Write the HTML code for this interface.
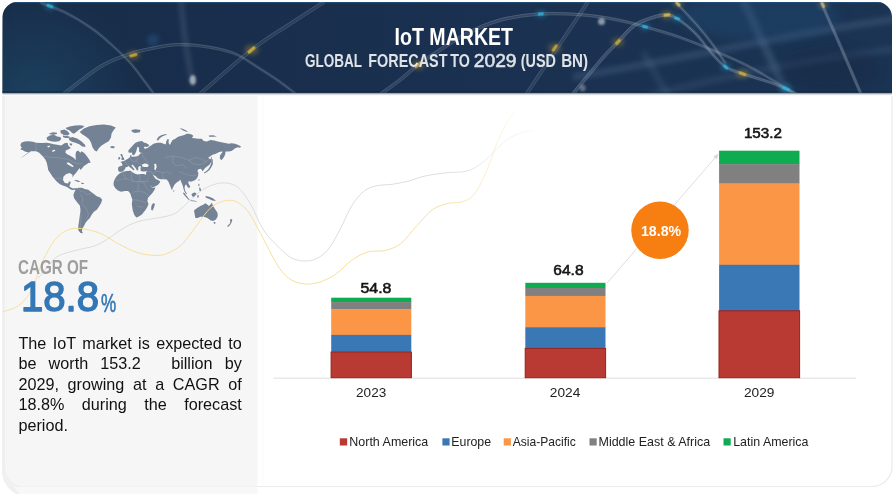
<!DOCTYPE html>
<html lang="en"><head><meta charset="utf-8"><title>IoT Market</title>
<style>
html,body{margin:0;padding:0;background:#fff}
body{width:895px;height:494px;position:relative;overflow:hidden;font-family:"Liberation Sans",sans-serif}
svg{position:absolute;left:0;top:0}
svg text{font-family:"Liberation Sans",sans-serif}
.para{position:absolute;left:18.4px;top:332.5px;width:223.4px;font-size:16.2px;line-height:20.6px;color:#111;text-align:justify}
.para div{text-align:justify;text-align-last:justify;white-space:nowrap;height:20.6px}
.para div.last{text-align-last:left}
</style></head>
<body>
<svg width="895" height="494" viewBox="0 0 895 494">
<defs>
<linearGradient id="bg" x1="0" y1="0" x2="1" y2="0">
<stop offset="0" stop-color="#172c48"/><stop offset="0.5" stop-color="#1a3050"/><stop offset="1" stop-color="#1b3453"/>
</linearGradient>
<radialGradient id="glow" cx="35" cy="95" r="105" gradientUnits="userSpaceOnUse">
<stop offset="0" stop-color="#1c405f" stop-opacity="1"/><stop offset="1" stop-color="#1c405f" stop-opacity="0"/>
</radialGradient>
<linearGradient id="fadeG" x1="440" y1="0" x2="520" y2="0" gradientUnits="userSpaceOnUse">
<stop offset="0" stop-color="#f6dc90"/><stop offset="1" stop-color="#f6dc90" stop-opacity="0.15"/>
</linearGradient>
<linearGradient id="fadeS" x1="440" y1="0" x2="535" y2="0" gradientUnits="userSpaceOnUse">
<stop offset="0" stop-color="#d9d9d9"/><stop offset="1" stop-color="#d9d9d9" stop-opacity="0.15"/>
</linearGradient>
<clipPath id="bclip"><path d="M2.5,92.7 V17 A15,15 0 0 1 17.5,2 H877 A15,15 0 0 1 892,17 V92.7 Z"/></clipPath>
<filter id="b1s" x="-50%" y="-50%" width="200%" height="200%"><feGaussianBlur stdDeviation="1.3"/></filter>
<filter id="b1" x="-20%" y="-20%" width="140%" height="140%"><feGaussianBlur stdDeviation="0.6"/></filter>
<filter id="b3" x="-50%" y="-50%" width="200%" height="200%"><feGaussianBlur stdDeviation="2.5"/></filter>
<filter id="b8" x="-50%" y="-50%" width="200%" height="200%"><feGaussianBlur stdDeviation="6"/></filter>
</defs>

<!-- panels -->
<path d="M2,96 H257.2 V494 H16 A26,26 0 0 1 2,470 Z" fill="#f0f0f0"/>
<path d="M14,487 H257.2 V494 H20 Z" fill="#f8f8f8"/>
<path d="M5,96 H257.2 V486.5 H25 A20,20 0 0 1 5,466.5 Z" fill="#f6f6f6"/>
<path d="M257.2,486.5 H872 A20,20 0 0 0 892,466.5 V96" fill="none" stroke="#ebebeb" stroke-width="1.2"/>
<path d="M263,96 V486" fill="none" stroke="#fbfbfb" stroke-width="1"/>

<!-- banner -->
<rect x="2.5" y="92" width="889.5" height="1.7" fill="#6f7d8c"/>
<rect x="2.5" y="93.7" width="889.5" height="0.8" fill="#aab3bc"/>
<rect x="2.5" y="94.5" width="889.5" height="0.7" fill="#e1e4e8"/>
<g clip-path="url(#bclip)">
<rect x="0" y="0" width="895" height="94" fill="url(#bg)"/>
<rect x="0" y="0" width="895" height="94" fill="url(#glow)"/>
<rect x="0" y="2" width="895" height="1.2" fill="#24507a" opacity="0.8"/>
<rect x="0" y="91.3" width="895" height="1.5" fill="#10233a" opacity="0.7"/>
<path d="M743,0 L788,96" stroke="#6d8cb0" stroke-opacity="0.26" stroke-width="8" fill="none" filter="url(#b3)"/>
<path d="M573,77 C640,66 720,50 773,39.5 S860,24 895,19" stroke="#6d8cb0" stroke-opacity="0.24" stroke-width="7" fill="none" filter="url(#b3)"/>
<path d="M648,96 C700,82 800,60 895,49" stroke="#6d8cb0" stroke-opacity="0.15" stroke-width="7" fill="none" filter="url(#b3)"/>
<path d="M643,52 L668,96" stroke="#6d8cb0" stroke-opacity="0.15" stroke-width="7" fill="none" filter="url(#b3)"/>
<ellipse cx="760" cy="16" rx="80" ry="24" fill="#21507a" opacity="0.35" filter="url(#b8)"/>
<ellipse cx="830" cy="70" rx="50" ry="22" fill="#122540" opacity="0.35" filter="url(#b8)"/>
<path d="M181,0 C183,30 188,60 193,86" stroke="#9fb0c4" stroke-opacity="0.22" stroke-width="4" fill="none" filter="url(#b3)"/>
<ellipse cx="192.8" cy="80" rx="3.2" ry="5" fill="#ffffff" opacity="0.55" filter="url(#b1s)"/>
<ellipse cx="601.5" cy="21.5" rx="3.5" ry="3.5" fill="#ffffff" opacity="0.5" filter="url(#b1s)"/>
<ellipse cx="582.7" cy="88" rx="3" ry="3.5" fill="#ffffff" opacity="0.3" filter="url(#b1s)"/>
<ellipse cx="153" cy="40" rx="6" ry="6" fill="#2a6aa0" opacity="0.35" filter="url(#b3)"/>
<path d="M40,2.7 C44.5,4.5 58.0,8.9 67,13.4 C76.0,17.9 86.2,24.4 94,30 C101.8,35.6 107.8,41.4 114,47 C120.2,52.6 126.0,58.1 131,63.7 C136.0,69.3 140.2,75.5 144,80.5 C147.8,85.5 152.3,91.8 154,94" stroke="#b9c6d6" stroke-opacity="0.11" stroke-width="3.4" fill="none"/>
<path d="M40,2.7 C44.5,4.5 58.0,8.9 67,13.4 C76.0,17.9 86.2,24.4 94,30 C101.8,35.6 107.8,41.4 114,47 C120.2,52.6 126.0,58.1 131,63.7 C136.0,69.3 140.2,75.5 144,80.5 C147.8,85.5 152.3,91.8 154,94" stroke="#dfe7f0" stroke-opacity="0.20" stroke-width="0.8" fill="none" transform="translate(-1.1,-1.1)"/>
<path d="M40,2.7 C44.5,4.5 58.0,8.9 67,13.4 C76.0,17.9 86.2,24.4 94,30 C101.8,35.6 107.8,41.4 114,47 C120.2,52.6 126.0,58.1 131,63.7 C136.0,69.3 140.2,75.5 144,80.5 C147.8,85.5 152.3,91.8 154,94" stroke="#dfe7f0" stroke-opacity="0.15" stroke-width="0.8" fill="none" transform="translate(1.1,1.1)"/>
<path d="M63.7,94 C69.8,89.5 89.5,73.5 100,67 C110.5,60.5 118.5,58.1 127,55 C135.5,51.9 142.6,50.3 151,48.6 C159.4,46.9 168.2,44.9 177.7,44.6 C187.2,44.3 198.5,45.5 208,47 C217.5,48.5 226.9,50.5 234.7,53.6 C242.5,56.7 247.6,60.9 254.8,65.4 C262.0,69.9 271.1,75.7 278,80.5 C284.9,85.3 293.0,91.8 296,94" stroke="#b9c6d6" stroke-opacity="0.11" stroke-width="3.4" fill="none"/>
<path d="M63.7,94 C69.8,89.5 89.5,73.5 100,67 C110.5,60.5 118.5,58.1 127,55 C135.5,51.9 142.6,50.3 151,48.6 C159.4,46.9 168.2,44.9 177.7,44.6 C187.2,44.3 198.5,45.5 208,47 C217.5,48.5 226.9,50.5 234.7,53.6 C242.5,56.7 247.6,60.9 254.8,65.4 C262.0,69.9 271.1,75.7 278,80.5 C284.9,85.3 293.0,91.8 296,94" stroke="#dfe7f0" stroke-opacity="0.20" stroke-width="0.8" fill="none" transform="translate(-1.1,-1.1)"/>
<path d="M63.7,94 C69.8,89.5 89.5,73.5 100,67 C110.5,60.5 118.5,58.1 127,55 C135.5,51.9 142.6,50.3 151,48.6 C159.4,46.9 168.2,44.9 177.7,44.6 C187.2,44.3 198.5,45.5 208,47 C217.5,48.5 226.9,50.5 234.7,53.6 C242.5,56.7 247.6,60.9 254.8,65.4 C262.0,69.9 271.1,75.7 278,80.5 C284.9,85.3 293.0,91.8 296,94" stroke="#dfe7f0" stroke-opacity="0.15" stroke-width="0.8" fill="none" transform="translate(1.1,1.1)"/>
<path d="M200,94 C208.7,86.6 237.0,61.3 252,49.6 C267.0,37.9 278.0,31.9 290,24 C302.0,16.1 318.3,5.7 324,2" stroke="#b9c6d6" stroke-opacity="0.11" stroke-width="3.4" fill="none"/>
<path d="M200,94 C208.7,86.6 237.0,61.3 252,49.6 C267.0,37.9 278.0,31.9 290,24 C302.0,16.1 318.3,5.7 324,2" stroke="#dfe7f0" stroke-opacity="0.20" stroke-width="0.8" fill="none" transform="translate(-1.1,-1.1)"/>
<path d="M200,94 C208.7,86.6 237.0,61.3 252,49.6 C267.0,37.9 278.0,31.9 290,24 C302.0,16.1 318.3,5.7 324,2" stroke="#dfe7f0" stroke-opacity="0.15" stroke-width="0.8" fill="none" transform="translate(1.1,1.1)"/>
<path d="M381,94 C384.2,91.7 393.8,84.8 400,80 C406.2,75.2 411.3,70.0 418,65 C424.7,60.0 431.8,55.2 440,50 C448.2,44.8 456.9,38.5 467,33.5 C477.1,28.5 488.3,23.2 500.6,20 C512.9,16.8 526.9,14.8 540.8,14 C554.7,13.2 571.1,14.0 584,15 C596.9,16.0 607.8,18.0 618,20 C628.2,22.0 634.8,24.0 645,26.8 C655.2,29.6 667.8,33.1 679,37 C690.2,40.9 700.8,45.3 712,50 C723.2,54.7 734.8,59.3 746,65 C757.2,70.7 771.0,79.2 779,84 C787.0,88.8 791.5,92.3 794,94" stroke="#b9c6d6" stroke-opacity="0.14" stroke-width="3.4" fill="none"/>
<path d="M381,94 C384.2,91.7 393.8,84.8 400,80 C406.2,75.2 411.3,70.0 418,65 C424.7,60.0 431.8,55.2 440,50 C448.2,44.8 456.9,38.5 467,33.5 C477.1,28.5 488.3,23.2 500.6,20 C512.9,16.8 526.9,14.8 540.8,14 C554.7,13.2 571.1,14.0 584,15 C596.9,16.0 607.8,18.0 618,20 C628.2,22.0 634.8,24.0 645,26.8 C655.2,29.6 667.8,33.1 679,37 C690.2,40.9 700.8,45.3 712,50 C723.2,54.7 734.8,59.3 746,65 C757.2,70.7 771.0,79.2 779,84 C787.0,88.8 791.5,92.3 794,94" stroke="#dfe7f0" stroke-opacity="0.20" stroke-width="0.8" fill="none" transform="translate(-1.1,-1.1)"/>
<path d="M381,94 C384.2,91.7 393.8,84.8 400,80 C406.2,75.2 411.3,70.0 418,65 C424.7,60.0 431.8,55.2 440,50 C448.2,44.8 456.9,38.5 467,33.5 C477.1,28.5 488.3,23.2 500.6,20 C512.9,16.8 526.9,14.8 540.8,14 C554.7,13.2 571.1,14.0 584,15 C596.9,16.0 607.8,18.0 618,20 C628.2,22.0 634.8,24.0 645,26.8 C655.2,29.6 667.8,33.1 679,37 C690.2,40.9 700.8,45.3 712,50 C723.2,54.7 734.8,59.3 746,65 C757.2,70.7 771.0,79.2 779,84 C787.0,88.8 791.5,92.3 794,94" stroke="#dfe7f0" stroke-opacity="0.15" stroke-width="0.8" fill="none" transform="translate(1.1,1.1)"/>
<path d="M526.5,94 C536.8,78.7 577.8,17.3 588,2" stroke="#b9c6d6" stroke-opacity="0.11" stroke-width="3.4" fill="none"/>
<path d="M526.5,94 C536.8,78.7 577.8,17.3 588,2" stroke="#dfe7f0" stroke-opacity="0.20" stroke-width="0.8" fill="none" transform="translate(-1.1,-1.1)"/>
<path d="M526.5,94 C536.8,78.7 577.8,17.3 588,2" stroke="#dfe7f0" stroke-opacity="0.15" stroke-width="0.8" fill="none" transform="translate(1.1,1.1)"/>
<path d="M573,94 C577.7,88.3 593.5,68.7 601,60 C608.5,51.3 612.3,47.8 618,42 C623.7,36.2 628.8,29.2 635,25 C641.2,20.8 649.7,18.5 655,16.8 C660.3,15.1 663.3,14.7 667,15 C670.7,15.3 672.2,15.3 677,18.4 C681.8,21.5 689.8,27.6 695.6,33.5 C701.4,39.4 707.0,48.0 712,53.6 C717.0,59.2 720.6,63.6 725.7,67 C730.8,70.3 735.3,71.2 742.5,73.7 C749.7,76.2 761.8,79.5 769,82 C776.2,84.5 781.3,86.8 786,88.8 C790.7,90.8 795.2,93.1 797,94" stroke="#b9c6d6" stroke-opacity="0.2" stroke-width="3.4" fill="none"/>
<path d="M573,94 C577.7,88.3 593.5,68.7 601,60 C608.5,51.3 612.3,47.8 618,42 C623.7,36.2 628.8,29.2 635,25 C641.2,20.8 649.7,18.5 655,16.8 C660.3,15.1 663.3,14.7 667,15 C670.7,15.3 672.2,15.3 677,18.4 C681.8,21.5 689.8,27.6 695.6,33.5 C701.4,39.4 707.0,48.0 712,53.6 C717.0,59.2 720.6,63.6 725.7,67 C730.8,70.3 735.3,71.2 742.5,73.7 C749.7,76.2 761.8,79.5 769,82 C776.2,84.5 781.3,86.8 786,88.8 C790.7,90.8 795.2,93.1 797,94" stroke="#dfe7f0" stroke-opacity="0.20" stroke-width="0.8" fill="none" transform="translate(-1.1,-1.1)"/>
<path d="M573,94 C577.7,88.3 593.5,68.7 601,60 C608.5,51.3 612.3,47.8 618,42 C623.7,36.2 628.8,29.2 635,25 C641.2,20.8 649.7,18.5 655,16.8 C660.3,15.1 663.3,14.7 667,15 C670.7,15.3 672.2,15.3 677,18.4 C681.8,21.5 689.8,27.6 695.6,33.5 C701.4,39.4 707.0,48.0 712,53.6 C717.0,59.2 720.6,63.6 725.7,67 C730.8,70.3 735.3,71.2 742.5,73.7 C749.7,76.2 761.8,79.5 769,82 C776.2,84.5 781.3,86.8 786,88.8 C790.7,90.8 795.2,93.1 797,94" stroke="#dfe7f0" stroke-opacity="0.15" stroke-width="0.8" fill="none" transform="translate(1.1,1.1)"/>
<path d="M675.5,2 C678.9,5.6 689.5,16.6 695.6,23.5 C701.7,30.4 707.0,36.9 712,43.6 C717.0,50.3 723.4,60.4 725.7,63.7" stroke="#b9c6d6" stroke-opacity="0.15" stroke-width="3.4" fill="none"/>
<path d="M675.5,2 C678.9,5.6 689.5,16.6 695.6,23.5 C701.7,30.4 707.0,36.9 712,43.6 C717.0,50.3 723.4,60.4 725.7,63.7" stroke="#dfe7f0" stroke-opacity="0.20" stroke-width="0.8" fill="none" transform="translate(-1.1,-1.1)"/>
<path d="M675.5,2 C678.9,5.6 689.5,16.6 695.6,23.5 C701.7,30.4 707.0,36.9 712,43.6 C717.0,50.3 723.4,60.4 725.7,63.7" stroke="#dfe7f0" stroke-opacity="0.15" stroke-width="0.8" fill="none" transform="translate(1.1,1.1)"/>
<path d="M821,2 C824.2,9.2 833.3,29.7 840,45 C846.7,60.3 857.5,85.8 861,94" stroke="#b9c6d6" stroke-opacity="0.22" stroke-width="3.4" fill="none"/>
<path d="M821,2 C824.2,9.2 833.3,29.7 840,45 C846.7,60.3 857.5,85.8 861,94" stroke="#dfe7f0" stroke-opacity="0.20" stroke-width="0.8" fill="none" transform="translate(-1.1,-1.1)"/>
<path d="M821,2 C824.2,9.2 833.3,29.7 840,45 C846.7,60.3 857.5,85.8 861,94" stroke="#dfe7f0" stroke-opacity="0.15" stroke-width="0.8" fill="none" transform="translate(1.1,1.1)"/>
<ellipse cx="50" cy="6" rx="6" ry="4" fill="#2fb6e0" opacity="0.30" filter="url(#b3)"/>
<rect x="46.5" y="4.5" width="6.9" height="3" rx="1.2" fill="#2fb6e0" opacity="0.8" filter="url(#b1)" transform="rotate(21.6 50 6)"/>
<ellipse cx="133.4" cy="55.3" rx="6.5" ry="4.5" fill="#d9ae35" opacity="0.30" filter="url(#b3)"/>
<rect x="129.4" y="53.8" width="8.0" height="3" rx="1.2" fill="#d9ae35" opacity="0.8" filter="url(#b1)" transform="rotate(-14.9 133.4 55.3)"/>
<ellipse cx="251.5" cy="50" rx="7" ry="5" fill="#e2b838" opacity="0.30" filter="url(#b3)"/>
<rect x="246.9" y="48.5" width="9.2" height="3" rx="1.2" fill="#e2b838" opacity="0.8" filter="url(#b1)" transform="rotate(-40.5 251.5 50)"/>
<ellipse cx="418" cy="65" rx="6.5" ry="4.5" fill="#d9ae35" opacity="0.30" filter="url(#b3)"/>
<rect x="414.0" y="63.5" width="8.0" height="3" rx="1.2" fill="#d9ae35" opacity="0.8" filter="url(#b1)" transform="rotate(-39.8 418 65)"/>
<ellipse cx="540.8" cy="14" rx="5.5" ry="3.5" fill="#2fb6e0" opacity="0.30" filter="url(#b3)"/>
<rect x="537.9" y="12.5" width="5.8" height="3" rx="1.2" fill="#2fb6e0" opacity="0.8" filter="url(#b1)" transform="rotate(-8.5 540.8 14)"/>
<ellipse cx="645" cy="26.8" rx="5.5" ry="3.5" fill="#2fb6e0" opacity="0.30" filter="url(#b3)"/>
<rect x="642.1" y="25.3" width="5.8" height="3" rx="1.2" fill="#2fb6e0" opacity="0.8" filter="url(#b1)" transform="rotate(14.1 645 26.8)"/>
<ellipse cx="618" cy="42" rx="6" ry="4" fill="#d9ae35" opacity="0.30" filter="url(#b3)"/>
<rect x="614.5" y="40.5" width="6.9" height="3" rx="1.2" fill="#d9ae35" opacity="0.8" filter="url(#b1)" transform="rotate(-46.6 618 42)"/>
<ellipse cx="667" cy="15" rx="6" ry="4" fill="#e8c040" opacity="0.30" filter="url(#b3)"/>
<rect x="663.5" y="13.5" width="6.9" height="3" rx="1.2" fill="#e8c040" opacity="0.8" filter="url(#b1)" transform="rotate(-8.5 667 15)"/>
<ellipse cx="677" cy="18.4" rx="5.5" ry="3.5" fill="#2fb6e0" opacity="0.30" filter="url(#b3)"/>
<rect x="674.1" y="16.9" width="5.8" height="3" rx="1.2" fill="#2fb6e0" opacity="0.8" filter="url(#b1)" transform="rotate(18.8 677 18.4)"/>
<ellipse cx="725.7" cy="67" rx="5.5" ry="3.5" fill="#2fb6e0" opacity="0.30" filter="url(#b3)"/>
<rect x="722.8" y="65.5" width="5.8" height="3" rx="1.2" fill="#2fb6e0" opacity="0.8" filter="url(#b1)" transform="rotate(44.4 725.7 67)"/>
<ellipse cx="742.5" cy="73.7" rx="6.5" ry="4.5" fill="#d9ae35" opacity="0.30" filter="url(#b3)"/>
<rect x="738.5" y="72.2" width="8.0" height="3" rx="1.2" fill="#d9ae35" opacity="0.8" filter="url(#b1)" transform="rotate(21.7 742.5 73.7)"/>
<ellipse cx="786" cy="88.8" rx="6.5" ry="4.5" fill="#2fb6e0" opacity="0.30" filter="url(#b3)"/>
<rect x="782.0" y="87.3" width="8.0" height="3" rx="1.2" fill="#2fb6e0" opacity="0.8" filter="url(#b1)" transform="rotate(21.8 786 88.8)"/>
<ellipse cx="678" cy="4" rx="5.5" ry="3.5" fill="#d8c060" opacity="0.30" filter="url(#b3)"/>
<rect x="675.1" y="2.5" width="5.8" height="3" rx="1.2" fill="#d8c060" opacity="0.8" filter="url(#b1)" transform="rotate(46.9 678 4)"/>
<ellipse cx="823" cy="5" rx="5.5" ry="3.5" fill="#c8b878" opacity="0.30" filter="url(#b3)"/>
<rect x="820.1" y="3.5" width="5.8" height="3" rx="1.2" fill="#c8b878" opacity="0.8" filter="url(#b1)" transform="rotate(66.2 823 5)"/>
<ellipse cx="554.7" cy="48" rx="6.5" ry="4.5" fill="#d9ae35" opacity="0.30" filter="url(#b3)"/>
<rect x="550.7" y="46.5" width="8.0" height="3" rx="1.2" fill="#d9ae35" opacity="0.8" filter="url(#b1)" transform="rotate(-56.2 554.7 48)"/>
</g>

<!-- title -->
<text x="394.6" y="45.3" font-size="23.6" font-weight="bold" fill="#ffffff" textLength="118.4" lengthAdjust="spacingAndGlyphs">IoT MARKET</text>
<g font-size="18.8" font-weight="bold" fill="#dfe2e6">
<text x="304.9" y="66.7" textLength="57.0" lengthAdjust="spacingAndGlyphs">GLOBAL</text>
<text x="368.3" y="66.7" textLength="79.2" lengthAdjust="spacingAndGlyphs">FORECAST</text>
<text x="450.3" y="66.7" textLength="19.6" lengthAdjust="spacingAndGlyphs">TO</text>
<text x="473.8" y="66.7" font-weight="normal" stroke="#dfe2e6" stroke-width="0.55" textLength="42.7" lengthAdjust="spacingAndGlyphs">2029</text>
<text x="520.7" y="66.7" textLength="35.2" lengthAdjust="spacingAndGlyphs">(USD</text>
<text x="561.2" y="66.7" textLength="26.9" lengthAdjust="spacingAndGlyphs">BN)</text>
</g>

<!-- world map -->
<path d="M20.3,158.5 L23.4,155.9 L28.7,152.2 L25.5,151.7 L22.4,150.1 L20.3,149.6 L21.8,147.5 L20.3,145.4 L21.3,142.7 L24.5,141.4 L28.7,141.2 L32.9,141.7 L36.1,142.7 L41.3,143.1 L46.6,142.7 L49.7,143.3 L53.9,144.3 L57.1,144.8 L61.3,145.4 L64.5,143.3 L67.6,142.7 L68.2,145.6 L70.8,148.0 L68.7,149.2 L65.7,150.6 L65.5,152.7 L67.1,154.3 L69.7,155.4 L72.4,156.9 L74.5,158.5 L75.2,160.3 L75.8,158.5 L75.5,154.8 L76.1,151.7 L78.2,150.6 L80.3,152.7 L81.8,151.2 L84.5,153.3 L87.1,156.4 L89.2,159.6 L90.8,162.7 L88.7,162.7 L86.6,164.3 L83.9,165.9 L82.4,168.0 L80.3,170.0 L79.5,168.1 L77.4,171.0 L75.9,173.1 L73.8,175.2 L72.4,177.4 L72.7,174.0 L73.5,177.1 L72.0,174.5 L69.8,173.1 L66.3,174.0 L63.5,176.4 L63.0,179.9 L64.9,183.0 L68.1,183.6 L69.1,181.3 L70.7,181.9 L70.1,184.2 L69.3,186.2 L71.3,187.7 L73.4,188.6 L76.2,188.1 L77.2,189.3 L75.2,189.8 L73.4,190.1 L71.3,189.8 L69.1,188.6 L67.0,187.1 L63.5,185.7 L59.9,184.2 L56.4,181.3 L52.8,177.1 L50.0,172.8 L48.2,170.0 L47.6,166.4 L46.6,162.2 L45.0,159.1 L42.4,155.9 L39.2,152.7 L36.1,151.2 L30.8,151.2 L26.6,154.3Z M74.1,179.9 L77.6,180.2 L80.5,181.6 L78.3,181.9 L75.5,181.1Z M81.2,182.8 L84.0,183.0 L83.7,184.0 L81.5,183.9Z M46.6,137.5 L49.7,135.4 L53.9,134.8 L57.1,136.4 L60.3,136.9 L61.3,139.1 L59.2,141.2 L55.0,141.7 L50.8,141.2 L47.1,140.1Z M48.7,133.8 L52.9,132.2 L57.1,132.7 L56.6,134.3 L51.8,134.8Z M60.3,130.6 L64.5,129.6 L67.6,131.2 L69.7,133.8 L67.6,135.4 L63.4,134.8 L60.8,133.3Z M68.7,138.0 L72.4,136.9 L77.1,138.5 L81.3,141.2 L85.0,144.8 L85.5,146.9 L82.4,146.4 L79.2,144.3 L75.5,142.7 L71.8,141.7 L69.2,140.1Z M65.5,128.0 L69.7,126.4 L75.0,125.4 L80.3,125.2 L84.5,125.9 L82.4,128.0 L79.2,129.6 L76.6,131.7 L73.9,133.8 L71.8,132.7 L69.7,130.6 L67.1,129.6Z M62.9,135.4 L66.6,135.9 L69.7,136.4 L69.2,138.0 L65.5,138.0 L62.9,136.9Z M69.7,143.3 L72.4,143.8 L71.8,145.6 L69.9,145.2Z M76.2,189.1 L78.3,187.7 L81.9,187.7 L84.7,189.1 L88.3,189.8 L91.1,192.0 L93.9,194.1 L96.8,196.2 L100.3,197.6 L102.2,199.8 L101.0,203.3 L98.9,206.8 L96.8,209.7 L93.9,211.8 L91.8,214.6 L89.7,218.2 L87.6,220.3 L85.4,223.1 L84.0,226.0 L82.6,228.1 L81.9,230.9 L82.9,233.2 L80.5,233.1 L78.3,230.2 L78.3,226.0 L79.1,221.0 L79.8,215.4 L80.5,209.7 L79.8,205.4 L76.9,201.9 L74.1,198.3 L73.4,194.8 L74.8,191.3Z M79.7,132.0 L83.9,128.5 L89.6,126.3 L96.7,124.9 L103.8,124.6 L110.9,125.6 L115.8,127.5 L113.7,129.9 L111.6,133.4 L110.9,137.7 L108.7,141.2 L105.2,143.3 L101.6,145.5 L98.8,148.3 L96.7,151.6 L94.6,150.4 L92.4,146.9 L91.0,142.6 L88.9,139.1 L85.4,136.3 L81.8,134.1Z M110.2,146.5 L113.0,145.9 L115.1,147.0 L113.4,148.2 L110.9,147.9Z M118.1,170.6 L118.1,167.4 L120.1,166.1 L122.1,165.7 L122.5,164.5 L121.7,162.9 L120.5,162.1 L122.9,161.3 L124.9,160.5 L127.0,159.3 L129.0,158.1 L130.0,156.8 L130.2,155.2 L131.3,155.1 L131.4,156.8 L133.0,156.8 L136.3,156.4 L138.7,155.6 L139.3,154.8 L140.2,153.6 L142.3,153.0 L140.1,152.4 L138.9,151.2 L139.2,148.9 L138.5,147.0 L137.3,147.0 L136.8,149.2 L136.3,151.2 L135.5,153.0 L134.7,154.4 L133.5,155.2 L132.2,154.6 L131.8,152.4 L130.2,152.8 L128.6,152.4 L128.2,150.8 L129.4,149.2 L131.4,147.1 L133.4,144.7 L135.5,142.7 L138.7,141.5 L142.3,141.1 L143.6,142.4 L146.0,143.1 L148.8,144.7 L149.2,145.9 L146.8,146.9 L144.8,146.6 L143.6,147.9 L145.2,148.8 L147.6,147.9 L153.5,143.7 L157.1,142.8 L160.8,142.8 L163.5,143.7 L165.8,144.6 L166.2,141.4 L167.6,139.1 L168.9,139.6 L168.5,142.8 L169.9,145.0 L171.2,142.3 L172.6,140.0 L175.3,138.7 L178.1,136.8 L180.8,135.9 L184.4,135.0 L186.7,133.7 L189.0,133.7 L191.7,134.6 L193.5,135.9 L191.7,137.8 L194.4,138.2 L198.1,138.7 L198.6,138.7 L201.8,138.7 L203.7,140.9 L206.8,141.4 L210.5,140.0 L214.1,140.5 L217.8,141.4 L221.4,142.3 L225.1,143.0 L228.7,143.7 L231.4,143.2 L235.1,143.7 L238.3,145.0 L241.0,146.4 L240.1,147.8 L237.8,147.3 L235.1,148.2 L233.7,149.6 L231.4,151.0 L228.7,151.4 L226.4,151.4 L225.5,151.4 L225.2,154.6 L223.4,158.0 L221.2,160.2 L219.8,158.3 L220.0,155.6 L221.4,153.4 L222.8,151.7 L221.0,151.4 L218.7,152.3 L215.9,153.7 L213.2,154.6 L210.5,156.0 L208.2,157.8 L209.6,158.7 L211.4,159.4 L210.8,159.1 L211.3,161.8 L209.7,164.5 L207.0,166.6 L204.9,168.2 L203.5,170.0 L202.7,171.5 L201.7,169.8 L200.6,168.8 L198.4,169.3 L197.4,170.9 L198.4,173.1 L198.1,175.8 L196.8,178.4 L195.2,180.0 L193.1,181.1 L190.4,181.7 L188.8,181.1 L188.2,182.7 L189.3,184.9 L190.4,187.0 L188.8,188.1 L187.2,186.5 L186.1,184.3 L185.0,185.4 L184.5,187.6 L185.0,190.2 L186.1,192.4 L187.2,194.0 L186.1,194.0 L184.5,191.8 L183.4,188.6 L182.7,185.4 L181.3,182.2 L180.2,179.5 L179.1,181.1 L177.0,182.2 L174.8,184.3 L173.2,187.0 L172.1,189.7 L171.5,189.5 L170.5,186.8 L169.4,184.1 L168.3,181.5 L166.7,179.5 L163.5,179.3 L160.3,179.3 L157.6,178.2 L155.5,176.1 L152.8,174.7 L154.4,177.2 L156.0,179.3 L157.6,179.8 L159.7,180.9 L160.3,182.0 L158.1,184.7 L155.5,186.3 L152.8,187.3 L150.9,186.5 L149.2,183.8 L147.8,180.6 L146.4,177.4 L145.8,175.0 L146.3,172.3 L146.9,171.3 L142.6,171.4 L140.4,170.7 L140.7,169.4 L140.3,167.8 L141.5,167.0 L139.9,166.1 L138.3,167.0 L138.3,169.8 L137.1,170.8 L135.9,168.6 L134.7,167.0 L133.8,165.7 L132.2,164.5 L131.4,165.3 L132.9,167.4 L134.5,169.4 L133.7,170.4 L131.8,168.8 L130.2,167.4 L128.6,166.1 L127.0,167.0 L125.3,167.4 L125.3,168.6 L124.1,170.2 L122.5,171.6 L119.7,171.9Z M120.5,154.0 L122.1,154.0 L122.9,156.4 L124.1,158.5 L124.5,159.7 L121.7,160.1 L121.3,158.5 L122.1,157.2 L120.9,156.0Z M118.1,157.7 L120.1,156.8 L120.1,158.9 L118.5,159.7Z M131.3,129.9 L135.5,129.2 L140.5,129.9 L139.8,132.3 L134.8,133.1 L132.0,131.7Z M156.7,139.6 L158.5,136.8 L161.7,135.0 L166.2,134.1 L166.7,134.8 L162.6,136.2 L159.8,138.2 L158.0,140.8Z M179.4,128.2 L182.6,128.7 L188.1,131.4 L186.3,131.8 L183.1,130.5Z M208.7,135.5 L213.2,135.2 L216.9,136.4 L213.2,136.8 L209.1,136.7Z M211.3,159.1 L212.9,159.4 L212.7,161.1 L212.9,163.9 L211.3,167.2 L209.7,169.8 L207.0,172.0 L204.3,173.6 L204.1,172.5 L206.5,170.9 L208.6,168.8 L210.2,166.1 L211.3,162.9Z M210.8,156.4 L211.6,157.0 L211.8,160.2 L211.0,159.7Z M198.8,179.0 L199.5,179.2 L199.2,181.1 L198.5,180.6Z M198.4,183.8 L199.5,184.1 L199.2,186.5 L198.4,185.9Z M199.0,187.6 L200.6,188.1 L201.1,191.3 L199.5,190.8Z M173.2,190.2 L174.3,190.6 L174.1,191.8 L173.3,191.6Z M182.9,192.4 L184.5,192.9 L187.7,197.2 L189.8,199.9 L188.8,199.9 L186.1,197.2 L183.4,194.0Z M191.5,194.0 L194.1,192.4 L196.3,192.9 L195.8,195.6 L193.6,197.2 L192.0,196.1Z M197.4,195.1 L199.0,195.6 L198.1,198.3 L197.4,197.2Z M190.4,200.2 L193.6,200.5 L196.8,201.2 L196.6,201.8 L193.4,201.3 L190.4,201.0Z M205.4,196.1 L208.6,196.4 L212.9,198.3 L216.1,201.0 L212.4,200.4 L208.6,198.8 L205.9,197.7Z M113.6,182.5 L114.7,179.3 L116.8,176.1 L119.5,173.4 L122.7,171.8 L127.0,171.1 L130.8,170.7 L132.4,172.3 L135.1,173.7 L137.8,174.5 L141.0,173.9 L144.2,173.9 L145.8,175.0 L146.5,177.7 L147.9,180.9 L149.6,184.1 L150.8,186.8 L152.8,187.7 L155.5,187.4 L154.4,190.0 L152.2,193.3 L149.6,195.9 L147.9,198.1 L147.4,201.3 L148.5,204.0 L147.4,206.7 L145.8,209.4 L141.9,214.6 L138.3,216.7 L136.2,217.4 L134.1,214.6 L132.7,210.3 L131.8,204.0 L132.4,199.7 L131.3,196.5 L130.2,193.3 L128.1,191.1 L124.9,191.1 L121.1,191.7 L117.9,190.6 L115.2,187.9 L113.6,185.2Z M151.2,207.2 L151.9,204.5 L153.8,202.9 L154.9,204.0 L154.1,207.2 L152.6,210.4 L151.2,209.9Z M194.0,210.4 L196.8,208.2 L200.4,206.1 L203.2,204.7 L205.4,203.3 L207.5,204.7 L208.9,206.1 L211.0,204.0 L211.7,202.6 L213.1,206.1 L215.3,209.6 L217.4,212.5 L217.8,216.0 L216.0,219.6 L213.1,221.0 L210.3,220.3 L207.5,218.1 L203.9,216.7 L200.4,216.7 L197.6,218.1 L195.4,218.1 L194.7,214.6Z M213.6,222.1 L215.3,222.1 L215.3,223.8 L213.9,223.8Z M230.2,218.9 L232.3,219.6 L231.6,222.4 L230.2,223.1Z M227.3,225.9 L230.9,222.4 L231.4,223.1 L229.4,225.7 L227.7,227.1Z" fill="#738294"/>
<path d="M47.1,146.2 L49.2,145.6 L50.3,146.6 L48.2,147.5Z M51.8,150.8 L54.5,149.8 L55.5,150.6 L52.9,151.9Z M66.6,162.7 L68.7,162.4 L71.3,164.3 L73.9,166.2 L72.4,166.9 L69.7,165.4 L67.1,164.1Z M141.9,164.8 L144.4,163.5 L146.8,163.8 L148.8,165.3 L147.6,167.0 L144.4,167.0 L142.3,166.4Z M154.1,164.1 L156.1,163.7 L156.7,167.0 L155.4,170.6 L154.2,169.0 L154.6,166.6Z" fill="#f6f6f6"/>
<path d="M36.1,142.8 L36.1,151.1 M42.6,156.1 L49.7,157.2 L59.2,157.8 L67.6,159.3 L73.9,162.2 L78.2,163.8 L82.4,163.3 M54.3,177.8 L57.8,178.8 L60.6,178.2 L63.5,180.2 M80.5,194.1 L82.6,198.3 L81.9,203.3 L84.7,206.8 L87.6,211.1 L88.3,215.4 L86.1,218.9 M80.5,211.1 L81.2,216.8 L80.5,223.9 L80.0,229.5 M78.3,188.4 L80.5,191.3 L84.7,192.0 L86.8,194.8 L91.1,193.4 M131.3,171.3 L131.3,177.2 L133.5,181.5 M139.9,174.5 L139.9,181.5 L144.2,183.1 M116.3,180.4 L122.7,179.1 L127.0,178.8 L133.5,181.5 L139.9,181.5 L147.9,181.5 M122.7,172.0 L123.8,176.1 L127.0,178.8 M132.4,192.2 L137.8,191.1 L144.2,192.2 L148.5,195.4 M133.5,199.7 L139.9,200.8 L146.3,202.9 M136.7,206.1 L143.1,207.2 M137.8,181.5 L138.3,186.8 L137.8,191.1 M144.2,183.1 L146.3,187.9 L149.6,191.1 M165.0,157.5 L173.5,156.1 L182.0,157.5 L189.1,160.4 L194.8,157.5 L201.8,158.9 L206.1,161.8 L200.4,164.6 L193.3,163.9 L189.1,160.4 M173.5,156.1 L172.1,161.8 L176.3,166.0 L182.0,164.6 L186.3,167.4 M179.2,171.7 L186.3,174.5 L193.3,175.9 L197.6,174.5 M206.1,161.8 L210.4,157.5 M152.8,174.7 L154.9,171.8 L159.2,171.3 L162.4,172.9 L163.5,179.3 M162.4,172.9 L167.8,171.8 L172.1,173.9 M146.9,171.3 L151.7,171.8 L152.8,174.7 M124.9,160.5 L125.8,163.3 L128.2,164.9 L128.6,166.1 M130.0,156.8 L131.0,160.1 L133.8,161.7 L136.3,160.9 L138.7,155.6 M136.3,160.9 L138.7,163.3 L141.9,164.8 M120.1,166.1 L120.9,167.4 L122.1,166.1 M142.3,153.0 L143.1,156.8 L146.0,159.3 L148.8,165.3" fill="none" stroke="#ffffff" stroke-opacity="0.28" stroke-width="0.45" stroke-linejoin="round"/>

<!-- wavy lines -->
<path d="M38.3,278.3 C40.2,275.9 46.2,267.8 49.7,264 C53.2,260.2 54.8,257.7 59.6,255.3 C64.4,252.9 72.7,251.2 78.5,249.7 C84.3,248.1 89.5,247.7 94.2,246 C98.9,244.3 101.5,242.8 106.7,239.6 C111.9,236.4 119.8,230.1 125.5,227 C131.2,223.9 134.9,222.5 141.2,220.8 C147.5,219.1 157.4,218.3 163.2,217 C169.0,215.7 171.6,215.5 175.8,213 C180.0,210.5 184.1,205.7 188.3,202 C192.5,198.3 196.7,193.9 200.9,191 C205.1,188.1 209.2,186.0 213.4,184.7 C217.6,183.4 221.8,182.5 226,183 C230.2,183.5 234.3,184.1 238.5,187.8 C242.7,191.5 246.8,197.9 251,205 C255.2,212.1 258.9,223.1 263.6,230.2 C268.3,237.3 274.7,243.2 279.3,247.8 C283.9,252.4 287.3,255.7 291.4,257.9 C295.4,260.1 299.6,260.8 303.6,261 C307.7,261.2 311.6,260.9 315.7,259 C319.8,257.1 323.8,254.7 327.9,249.8 C331.9,244.9 336.0,237.0 340,229.6 C344.0,222.2 347.9,211.7 352,205.3 C356.1,198.9 360.2,194.2 364.3,191 C368.4,187.8 371.8,186.9 376.5,185.8 C381.2,184.7 387.3,185.0 392.7,184.2 C398.1,183.4 403.4,182.4 408.8,181 C414.2,179.6 418.9,177.3 425,176 C431.1,174.7 438.6,173.7 445.3,172.9 C452.1,172.1 460.1,172.5 465.5,171.3 C470.9,170.2 473.6,168.6 477.7,166 C481.8,163.4 485.8,159.6 489.8,155.9 C493.9,152.2 498.0,147.1 502,143.7 C506.0,140.3 509.9,137.6 514,135.6 C518.0,133.6 522.9,132.5 526.3,131.6 C529.7,130.7 533.0,130.6 534.4,130.4" fill="none" stroke="url(#fadeS)" stroke-width="0.9"/>
<path d="M3.1,311.8 C5.7,310.8 14.1,309.1 18.8,305.5 C23.5,301.9 27.2,297.7 31.4,289.9 C35.6,282.1 39.8,267.1 44,258.5 C48.2,249.8 52.3,242.8 56.5,238 C60.7,233.2 64.8,231.2 69,229.6 C73.2,228.0 76.4,228.0 81.6,228.6 C86.8,229.2 94.1,230.8 100.4,233.4 C106.7,236.0 113.0,241.1 119.3,244.3 C125.6,247.5 132.2,251.0 138,252.8 C143.8,254.6 149.1,255.1 153.8,255.3 C158.5,255.5 161.7,255.6 166.4,253.8 C171.1,252.0 176.8,249.3 182,244.3 C187.2,239.3 193.0,230.0 197.7,224 C202.4,218.0 206.1,212.0 210.3,208.2 C214.5,204.4 218.6,202.5 222.8,201.3 C227.0,200.2 231.2,199.6 235.4,201.3 C239.6,203.0 243.8,206.1 248,211.4 C252.2,216.8 257.3,227.7 260.5,233.4 C263.7,239.1 263.9,239.9 267,245.7 C270.1,251.5 275.2,262.3 279.3,268 C283.4,273.7 287.0,277.3 291.4,280 C295.8,282.7 300.9,283.7 305.6,284 C310.3,284.3 314.7,283.7 319.8,282 C324.9,280.3 330.6,277.7 336,274 C341.4,270.3 346.6,263.7 352,260 C357.4,256.3 363.0,253.4 368.4,251.8 C373.8,250.2 379.2,251.9 384.6,250.6 C390.0,249.2 395.3,247.9 400.7,243.7 C406.1,239.5 411.6,231.2 417,225.5 C422.4,219.8 427.6,213.0 433,209.3 C438.4,205.6 444.6,204.4 449.3,203.2 C454.1,202.0 457.4,203.4 461.5,202 C465.6,200.6 469.6,199.8 473.6,195 C477.7,190.2 481.7,182.0 485.8,172.9 C489.9,163.8 494.6,148.6 498,140.5 C501.4,132.4 503.3,129.1 506,124.3 C508.7,119.5 512.7,114.0 514,112" fill="none" stroke="url(#fadeG)" stroke-width="0.9"/>

<!-- CAGR -->
<text x="18.0" y="273.7" font-size="19.3" font-weight="bold" fill="#9e9e9e" textLength="70.1" lengthAdjust="spacingAndGlyphs">CAGR OF</text>
<text x="21" y="311.3" font-size="42" fill="#3477b5" stroke="#3477b5" stroke-width="1.5" stroke-linejoin="round" textLength="78" lengthAdjust="spacingAndGlyphs">18.8</text>
<text x="100.9" y="311.6" font-size="25.4" fill="#3477b5" stroke="#3477b5" stroke-width="0.6" textLength="15.2" lengthAdjust="spacingAndGlyphs">%</text>

<!-- chart -->
<rect x="273.4" y="377.6" width="582.8" height="1.1" fill="#e2e2e2"/>
<path d="M607.2,283 L717,155.5" stroke="#dedede" stroke-width="1" fill="none"/>
<path d="M718.6,153.6 L716.9,159.4 L713.4,156.4 Z" fill="#d8d8d8"/>
<rect x="331.2" y="297.7" width="80.10000000000002" height="4.7" fill="#0eab50"/>
<rect x="331.2" y="302.1" width="80.10000000000002" height="7.3" fill="#808080"/>
<rect x="331.2" y="309.1" width="80.10000000000002" height="26.1" fill="#fb9646"/>
<rect x="331.2" y="334.9" width="80.10000000000002" height="17.5" fill="#3a78b5"/>
<rect x="331.09999999999997" y="352.1" width="80.30000000000003" height="25.6" fill="#b83a32" stroke="#98221b" stroke-width="1"/>
<rect x="525.3" y="282.8" width="80.20000000000005" height="5.5" fill="#0eab50"/>
<rect x="525.3" y="288.0" width="80.20000000000005" height="8.2" fill="#808080"/>
<rect x="525.3" y="295.9" width="80.20000000000005" height="31.6" fill="#fb9646"/>
<rect x="525.3" y="327.2" width="80.20000000000005" height="21.5" fill="#3a78b5"/>
<rect x="525.1999999999999" y="348.4" width="80.40000000000005" height="29.3" fill="#b83a32" stroke="#98221b" stroke-width="1"/>
<rect x="719.1" y="150.7" width="80.39999999999998" height="13.7" fill="#0eab50"/>
<rect x="719.1" y="164.1" width="80.39999999999998" height="19.7" fill="#808080"/>
<rect x="719.1" y="183.5" width="80.39999999999998" height="81.6" fill="#fb9646"/>
<rect x="719.1" y="264.8" width="80.39999999999998" height="46.3" fill="#3a78b5"/>
<rect x="719.0" y="310.8" width="80.59999999999998" height="66.9" fill="#b83a32" stroke="#98221b" stroke-width="1"/>
<circle cx="660" cy="230.3" r="28.7" fill="#f77f11"/>
<text x="640.9" y="236" font-size="15" font-weight="bold" fill="#ffffff" textLength="40.3" lengthAdjust="spacingAndGlyphs">18.8%</text>

<text x="360.5" y="292.6" font-size="14" fill="#151515" stroke="#151515" stroke-width="0.55" textLength="30.9" lengthAdjust="spacingAndGlyphs">54.8</text>
<text x="553.3" y="274.6" font-size="14" fill="#151515" stroke="#151515" stroke-width="0.55" textLength="30.3" lengthAdjust="spacingAndGlyphs">64.8</text>
<text x="743.9" y="137.6" font-size="14" fill="#151515" stroke="#151515" stroke-width="0.55" textLength="38.1" lengthAdjust="spacingAndGlyphs">153.2</text>

<text x="356.1" y="397.3" font-size="12.7" fill="#222" textLength="30.1" lengthAdjust="spacingAndGlyphs">2023</text>
<text x="549.8" y="397.3" font-size="12.7" fill="#222" textLength="30.5" lengthAdjust="spacingAndGlyphs">2024</text>
<text x="743.9" y="397.3" font-size="12.7" fill="#222" textLength="30.5" lengthAdjust="spacingAndGlyphs">2029</text>

<!-- legend -->
<rect x="339.8" y="438.3" width="7.4" height="7.2" fill="#b83a32"/>
<text x="349.3" y="446.3" font-size="12.6" fill="#222" textLength="79.0" lengthAdjust="spacingAndGlyphs">North America</text>
<rect x="442.4" y="438.3" width="7.2" height="7.2" fill="#3a78b5"/>
<text x="451.3" y="446.3" font-size="12.6" fill="#222" textLength="39.8" lengthAdjust="spacingAndGlyphs">Europe</text>
<rect x="503.7" y="438.3" width="7.2" height="7.2" fill="#fb9646"/>
<text x="512.7" y="446.3" font-size="12.6" fill="#222" textLength="63.1" lengthAdjust="spacingAndGlyphs">Asia-Pacific</text>
<rect x="589.5" y="438.3" width="7.2" height="7.2" fill="#808080"/>
<text x="598.5" y="446.3" font-size="12.6" fill="#222" textLength="111.7" lengthAdjust="spacingAndGlyphs">Middle East &amp; Africa</text>
<rect x="723.5" y="438.3" width="7.2" height="7.2" fill="#0eab50"/>
<text x="733.2" y="446.3" font-size="12.6" fill="#222" textLength="75.3" lengthAdjust="spacingAndGlyphs">Latin America</text>
</svg>

<div class="para">
<div>The IoT market is expected to</div>
<div>be worth 153.2 <span style="display:inline-block;width:6px"></span> billion by</div>
<div>2029, growing at a CAGR of</div>
<div>18.8% during the forecast</div>
<div class="last">period.</div>
</div>
</body></html>
